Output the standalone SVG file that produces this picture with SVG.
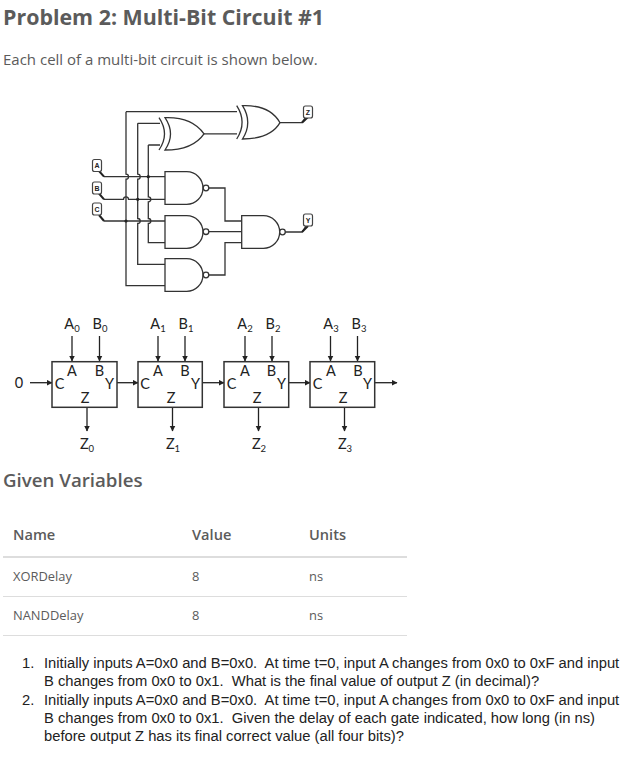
<svg xmlns="http://www.w3.org/2000/svg" width="628" height="757" viewBox="0 0 628 757">
<defs>
<marker id="ah" markerWidth="7" markerHeight="7" refX="5.5" refY="3" orient="auto" markerUnits="userSpaceOnUse"><path d="M0,0L6,3L0,6Z" fill="#222"/></marker>
</defs>
<style>
.w{fill:none;stroke:#333;stroke-width:1.3}
.g{fill:#fff;stroke:#333;stroke-width:1.3}
.lb{fill:#fff;stroke:#444;stroke-width:1.2}
.lt{font:bold 7px "Liberation Sans",sans-serif;fill:#222;text-anchor:middle}
.tail{fill:none;stroke:#222;stroke-width:2}
.box{fill:#fff;stroke:#333;stroke-width:1.5}
.arr{fill:none;stroke:#222;stroke-width:1.3;marker-end:url(#ah)}
.c{font-family:Lato,sans-serif;font-size:14.5px;fill:#222;text-anchor:middle}
.s{font-size:9.5px}
.o{font-family:"Open Sans",sans-serif;fill:#5b5b5b}
.h{font-weight:600;font-size:14.6px}
.d{font-size:12.9px}
.l{font-family:"Liberation Sans",sans-serif;font-size:14.75px;fill:#222;white-space:pre}
</style>
<rect width="628" height="757" fill="#fff"/>
<text class="o" x="3" y="25" font-size="21.4" font-weight="700">Problem 2: Multi-Bit Circuit #1</text>
<text class="o" x="3" y="65" font-size="15">Each cell of a multi-bit circuit is shown below.</text>
<g id="connectors" class="w">
<path d="M126,111.7H237M137.7,123.3H160M148.3,145H160M204,133.8H237M280,122.7H301.7L306,117"/>
<path d="M126,111.7V174.2a2.5,2.5 0 0 1 0,5V285.7H165"/>
<path d="M137.7,123.3V174.2a2.5,2.5 0 0 1 0,5V218.5a2.5,2.5 0 0 1 0,5V264.3H165"/>
<path d="M148.3,145V196.8a2.5,2.5 0 0 1 0,5V218.5a2.5,2.5 0 0 1 0,5V242.7H165"/>
<path d="M104,176.7H165M104,199.3H123.5a2.5,2.5 0 0 1 5,0H165M104,221H165"/>
<path d="M209,188H225V221H241.7M209,231.7H241.7M209,275H225V242.7H241.7M285,232H302L306,226"/>
<circle cx="148.3" cy="176.7" r="1.6" fill="#222" stroke="none"/>
<circle cx="137.7" cy="199.3" r="1.6" fill="#222" stroke="none"/>
<circle cx="126" cy="221" r="1.6" fill="#222" stroke="none"/>
</g>
<g id="xor1"><path class="g" d="M165,117.7C185,117 197,124 204,133.8C197,144 185,150 165,150Q176,134 165,117.7Z"/><path class="w" d="M159,117.7Q170,134 159,150"/></g>
<g id="xor2"><path class="g" d="M242.5,105.7C262,105 274,112 280,122.7C274,133 262,139 242.5,139Q253,122.5 242.5,105.7Z"/><path class="w" d="M236.7,105.7Q247.5,122.5 236.7,139"/></g>
<g id="nand1"><path class="g" d="M165,171.7H186.7A16.3,16.3 0 0 1 186.7,204.3H165Z"/><circle class="g" cx="206" cy="188" r="2.8"/></g>
<g id="nand2"><path class="g" d="M165,215.7H186.7A16.3,16.3 0 0 1 186.7,248.3H165Z"/><circle class="g" cx="206" cy="231.7" r="2.8"/></g>
<g id="nand3"><path class="g" d="M165,258.7H186.7A16.3,16.3 0 0 1 186.7,291.3H165Z"/><circle class="g" cx="206" cy="275" r="2.8"/></g>
<g id="nand4"><path class="g" d="M241.7,215.7H263.4A16.3,16.3 0 0 1 263.4,248.3H241.7Z"/><circle class="g" cx="282.5" cy="232" r="2.8"/></g>
<g id="label-a"><path class="tail" d="M99,171L104,176.7"/><rect class="lb" x="92.5" y="159.5" width="9" height="12" rx="2"/><text class="lt" x="97" y="168.2">A</text></g>
<g id="label-b"><path class="tail" d="M99,193.5L104,199.3"/><rect class="lb" x="92.5" y="182" width="9" height="12" rx="2"/><text class="lt" x="97" y="190.7">B</text></g>
<g id="label-c"><path class="tail" d="M99,215L104,221"/><rect class="lb" x="92.5" y="203" width="9" height="12" rx="2"/><text class="lt" x="97" y="211.7">C</text></g>
<g id="label-z"><path class="tail" d="M308,117L302,122.7"/><rect class="lb" x="303.5" y="106" width="9" height="12" rx="2"/><text class="lt" x="308" y="114.7">Z</text></g>
<g id="label-y"><path class="tail" d="M308,226L302,232"/><rect class="lb" x="303.5" y="214" width="9" height="12" rx="2"/><text class="lt" x="308" y="222.7">Y</text></g>
<g id="cell-connectors">
<path class="arr" d="M30,382.7H52"/><path class="arr" d="M117,382.7H138"/><path class="arr" d="M202.3,382.7H224"/><path class="arr" d="M288.7,382.7H310"/><path class="arr" d="M374.7,382.7H397"/>
<path class="arr" d="M72,336V361"/><path class="arr" d="M99.5,336V361"/><path class="arr" d="M158,336V361"/><path class="arr" d="M185,336V361"/><path class="arr" d="M245,336V361"/><path class="arr" d="M272,336V361"/><path class="arr" d="M330.5,336V361"/><path class="arr" d="M357.5,336V361"/>
<path class="arr" d="M87,407.5V431"/><path class="arr" d="M172.5,407.5V431"/><path class="arr" d="M258.5,407.5V431"/><path class="arr" d="M344.5,407.5V431"/>
</g>
<text class="c" x="19" y="387.5">0</text>
<g id="cell0"><rect class="box" x="52" y="361.7" width="65" height="45.6"/><text class="c" x="72" y="376">A</text><text class="c" x="99.5" y="376">B</text><text class="c" x="59.5" y="388.5">C</text><text class="c" x="109.5" y="388.5">Y</text><text class="c" x="85" y="403">Z</text><text class="c" x="72" y="329">A<tspan class="s" dy="3">0</tspan></text><text class="c" x="100" y="329">B<tspan class="s" dy="3">0</tspan></text><text class="c" x="87" y="449">Z<tspan class="s" dy="3">0</tspan></text></g>
<g id="cell1"><rect class="box" x="138" y="361.7" width="64.3" height="45.6"/><text class="c" x="158" y="376">A</text><text class="c" x="185" y="376">B</text><text class="c" x="145" y="388.5">C</text><text class="c" x="195.5" y="388.5">Y</text><text class="c" x="171" y="403">Z</text><text class="c" x="158" y="329">A<tspan class="s" dy="3">1</tspan></text><text class="c" x="186" y="329">B<tspan class="s" dy="3">1</tspan></text><text class="c" x="173" y="449">Z<tspan class="s" dy="3">1</tspan></text></g>
<g id="cell2"><rect class="box" x="224" y="361.7" width="64.7" height="45.6"/><text class="c" x="245" y="376">A</text><text class="c" x="271.5" y="376">B</text><text class="c" x="231.5" y="388.5">C</text><text class="c" x="281.5" y="388.5">Y</text><text class="c" x="257" y="403">Z</text><text class="c" x="245" y="329">A<tspan class="s" dy="3">2</tspan></text><text class="c" x="273" y="329">B<tspan class="s" dy="3">2</tspan></text><text class="c" x="259" y="449">Z<tspan class="s" dy="3">2</tspan></text></g>
<g id="cell3"><rect class="box" x="310" y="361.7" width="64.7" height="45.6"/><text class="c" x="331" y="376">A</text><text class="c" x="358" y="376">B</text><text class="c" x="317.5" y="388.5">C</text><text class="c" x="367.5" y="388.5">Y</text><text class="c" x="343" y="403">Z</text><text class="c" x="331" y="329">A<tspan class="s" dy="3">3</tspan></text><text class="c" x="359" y="329">B<tspan class="s" dy="3">3</tspan></text><text class="c" x="345" y="449">Z<tspan class="s" dy="3">3</tspan></text></g>
<text class="o" x="3" y="487" font-size="18.7" font-weight="600">Given Variables</text>
<g id="table">
<rect x="3" y="556" width="404" height="2" fill="#ddd"/><rect x="3" y="596" width="404" height="1" fill="#ddd"/><rect x="3" y="635" width="404" height="1" fill="#ddd"/>
<text class="o h" x="13" y="540">Name</text><text class="o h" x="192" y="540">Value</text><text class="o h" x="309" y="540">Units</text>
<text class="o d" x="13" y="581">XORDelay</text><text class="o d" x="192" y="581">8</text><text class="o d" x="309" y="581">ns</text>
<text class="o d" x="13" y="620">NANDDelay</text><text class="o d" x="192" y="620">8</text><text class="o d" x="309" y="620">ns</text>
</g>
<g id="questions">
<text class="l" x="22" y="668">1.</text>
<text class="l" x="44" y="668">Initially inputs A=0x0 and B=0x0.  At time t=0, input A changes from 0x0 to 0xF and input</text>
<text class="l" x="44" y="686">B changes from 0x0 to 0x1.  What is the final value of output Z (in decimal)?</text>
<text class="l" x="22" y="705">2.</text>
<text class="l" x="44" y="705">Initially inputs A=0x0 and B=0x0.  At time t=0, input A changes from 0x0 to 0xF and input</text>
<text class="l" x="44" y="723">B changes from 0x0 to 0x1.  Given the delay of each gate indicated, how long (in ns)</text>
<text class="l" x="44" y="741">before output Z has its final correct value (all four bits)?</text>
</g>
</svg>
